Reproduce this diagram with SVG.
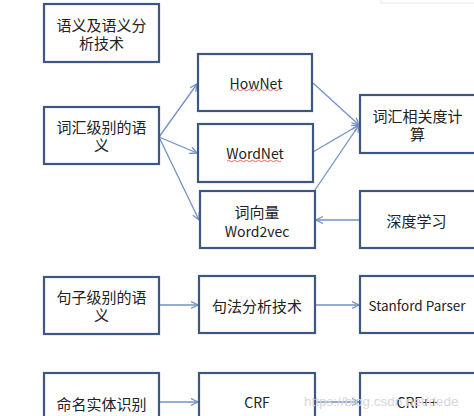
<svg xmlns="http://www.w3.org/2000/svg" width="474" height="416" viewBox="0 0 474 416">
<style>
.box{fill:#fff;stroke:#3d5783;stroke-width:2.2}
.t{font-family:"Noto Sans CJK SC","Liberation Sans",sans-serif;font-size:15px;fill:#222;text-anchor:middle;dominant-baseline:central}
.m{font-family:"Liberation Sans","Noto Sans CJK SC",sans-serif}
.e{font-size:14px}
.s{font-size:13.5px}
.c{fill:none;stroke:#7291c4;stroke-width:1.3}
.sq{fill:none;stroke:#e04040;stroke-width:0.8}
.wm{font-family:"Liberation Sans",sans-serif;font-size:13.5px;fill:#d8d8d8;dominant-baseline:central}
</style>
<defs>
<marker id="ah" markerWidth="9" markerHeight="9" refX="7.5" refY="4" orient="auto" markerUnits="userSpaceOnUse">
<path d="M0.5,0.5 L7.5,4 L0.5,7.5" fill="none" stroke="#7291c4" stroke-width="1.3"/>
</marker>
</defs>
<rect width="474" height="416" fill="#fff"/>
<rect x="381" y="-10" width="100" height="13" fill="#fff" stroke="#e6e6e6" stroke-width="1"/>
<g id="connectors">
<path class="c" d="M159,137 L197,84" marker-end="url(#ah)"/>
<path class="c" d="M159,137 L197,153" marker-end="url(#ah)"/>
<path class="c" d="M159,137 L199,220" marker-end="url(#ah)"/>
<path class="c" d="M313,83 L359,125" marker-end="url(#ah)"/>
<path class="c" d="M313,152 L359,125" marker-end="url(#ah)"/>
<path class="c" d="M315,190 L359,125" marker-end="url(#ah)"/>
<path class="c" d="M360,220 L316,220" marker-end="url(#ah)"/>
<path class="c" d="M159,305 L198,305" marker-end="url(#ah)"/>
<path class="c" d="M315,305 L359,305" marker-end="url(#ah)"/>
<path class="c" d="M159,402 L198,402" marker-end="url(#ah)"/>
<path class="c" d="M315,402 L359,402" marker-end="url(#ah)"/>
</g>
<g id="n-semantic">
<rect class="box" x="44" y="4" width="115" height="58"/>
<text class="t m" x="101.5" y="25">语义及语义分</text>
<text class="t m" x="101.5" y="43">析技术</text>
</g>
<g id="n-lexical">
<rect class="box" x="44" y="107" width="115" height="57"/>
<text class="t m" x="101.5" y="127">词汇级别的语</text>
<text class="t m" x="101.5" y="145">义</text>
</g>
<g id="n-hownet">
<rect class="box" x="198" y="54" width="114" height="57"/>
<text class="t e" x="256" y="83">HowNet</text>
<path class="sq" d="M230,90 q1.5,-1.5 3,0 t3,0 t3,0 t3,0 t3,0 t3,0 t3,0 t3,0 t3,0 t3,0 t3,0 t3,0 t3,0 t3,0 t3,0 t3,0 t3,0"/>
</g>
<g id="n-wordnet">
<rect class="box" x="198" y="124" width="115" height="58"/>
<text class="t e" x="255" y="153">WordNet</text>
<path class="sq" d="M227,161 q1.5,-1.5 3,0 t3,0 t3,0 t3,0 t3,0 t3,0 t3,0 t3,0 t3,0 t3,0 t3,0 t3,0 t3,0 t3,0 t3,0 t3,0 t3,0 t3,0"/>
</g>
<g id="n-wordvec">
<rect class="box" x="200" y="191" width="115" height="57"/>
<text class="t m" x="257" y="212">词向量</text>
<text class="t e" x="257" y="231">Word2vec</text>
</g>
<g id="n-relatedness">
<rect class="box" x="360" y="95" width="130" height="58"/>
<text class="t m" x="417.5" y="116">词汇相关度计</text>
<text class="t m" x="417.5" y="134">算</text>
</g>
<g id="n-deeplearning">
<rect class="box" x="360" y="191" width="130" height="57"/>
<text class="t" x="416.5" y="220">深度学习</text>
</g>
<g id="n-sentence">
<rect class="box" x="44" y="277" width="115" height="57"/>
<text class="t m" x="101.5" y="297">句子级别的语</text>
<text class="t m" x="101.5" y="315">义</text>
</g>
<g id="n-syntax">
<rect class="box" x="199" y="276" width="116" height="57"/>
<text class="t" x="257" y="305">句法分析技术</text>
</g>
<g id="n-stanford">
<rect class="box" x="360" y="276" width="130" height="57"/>
<text class="t s" x="417" y="305">Stanford Parser</text>
</g>
<g id="n-ner">
<rect class="box" x="44" y="373" width="115" height="60"/>
<text class="t" x="101.5" y="403">命名实体识别</text>
</g>
<g id="n-crf">
<rect class="box" x="199" y="373" width="116" height="60"/>
<text class="t e" x="257" y="402">CRF</text>
</g>
<g id="n-crfpp">
<rect class="box" x="360" y="373" width="130" height="60"/>
<text class="t e" x="417" y="402">CRF++</text>
</g>
<text class="wm" x="304" y="401">https://blog.csdn.net/dede</text>
</svg>
